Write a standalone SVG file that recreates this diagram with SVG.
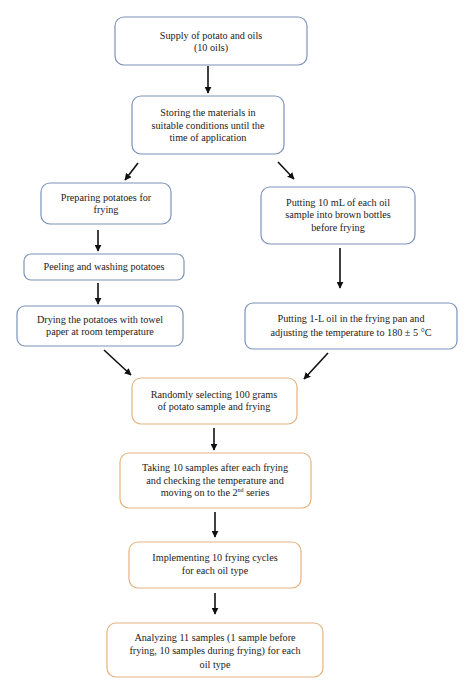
<svg xmlns="http://www.w3.org/2000/svg" width="474" height="695" viewBox="0 0 474 695">
<defs>
<marker id="ah" viewBox="0 0 10 10" refX="9" refY="5" markerWidth="7" markerHeight="7" markerUnits="userSpaceOnUse" orient="auto">
<path d="M0,0 L10,5 L0,10 z" fill="#111"/>
</marker>
</defs>
<style>
.b{fill:#fff;stroke:#7d92bb;stroke-width:1.2}
.o{fill:#fff;stroke:#e6b27f;stroke-width:1.2}
text{font-family:"Liberation Serif","Times New Roman",serif;font-size:10.2px;fill:#222;text-anchor:middle}
.c line{stroke:#111;stroke-width:1.6;marker-end:url(#ah)}
</style>
<rect width="474" height="695" fill="#fff"/>
<g id="n1"><rect class="b" x="115" y="17" width="192" height="48" rx="9"/>
<text x="211" y="39">Supply of potato and oils</text><text x="211" y="51">(10 oils)</text></g>
<g id="n2"><rect class="b" x="132" y="96" width="152" height="58" rx="9"/>
<text x="208" y="116">Storing the materials in</text><text x="208" y="129">suitable conditions until the</text><text x="208" y="141">time of application</text></g>
<g id="n3"><rect class="b" x="41" y="183" width="130" height="41" rx="9"/>
<text x="106" y="201">Preparing potatoes for</text><text x="106" y="213">frying</text></g>
<g id="n4"><rect class="b" x="24" y="254" width="160" height="26" rx="7"/>
<text x="104" y="270">Peeling and washing potatoes</text></g>
<g id="n5"><rect class="b" x="17" y="306" width="166" height="40" rx="8"/>
<text x="100" y="323">Drying the potatoes with towel</text><text x="100" y="335">paper at room temperature</text></g>
<g id="n6"><rect class="b" x="261" y="187" width="154" height="57" rx="9"/>
<text x="338" y="206">Putting 10 mL of each oil</text><text x="338" y="218">sample into brown bottles</text><text x="338" y="231">before frying</text></g>
<g id="n7"><rect class="b" x="245" y="303" width="212" height="46" rx="8"/>
<text x="351" y="322">Putting 1-L oil in the frying pan and</text><text x="351" y="336">adjusting the temperature to 180 ± 5 °C</text></g>
<g id="n8"><rect class="o" x="132" y="378" width="165" height="46" rx="9"/>
<text x="214" y="398">Randomly selecting 100 grams</text><text x="214" y="410">of potato sample and frying</text></g>
<g id="n9"><rect class="o" x="120" y="453" width="191" height="55" rx="9"/>
<text x="215" y="471">Taking 10 samples after each frying</text><text x="215" y="484">and checking the temperature and</text><text x="215" y="496">moving on to the 2<tspan font-size="6" dy="-4">nd</tspan><tspan dy="4"> series</tspan></text></g>
<g id="n10"><rect class="o" x="129" y="542" width="172" height="46" rx="9"/>
<text x="215" y="561">Implementing 10 frying cycles</text><text x="215" y="574">for each oil type</text></g>
<g id="n11"><rect class="o" x="107" y="623" width="216" height="54" rx="9"/>
<text x="215" y="641">Analyzing 11 samples (1 sample before</text><text x="215" y="654">frying, 10 samples during frying) for each</text><text x="215" y="668">oil type</text></g>
<g class="c" id="connectors">
<line x1="208" y1="66" x2="208" y2="93"/>
<line x1="138" y1="163" x2="125" y2="180"/>
<line x1="278" y1="162" x2="294" y2="179"/>
<line x1="98" y1="230" x2="98" y2="251"/>
<line x1="98" y1="283" x2="98" y2="304"/>
<line x1="340" y1="248" x2="340" y2="288"/>
<line x1="104" y1="350" x2="131" y2="375"/>
<line x1="328" y1="353" x2="304" y2="379"/>
<line x1="214" y1="428" x2="214" y2="450"/>
<line x1="215" y1="512" x2="215" y2="537"/>
<line x1="215" y1="593" x2="215" y2="614"/>
</g>
</svg>
